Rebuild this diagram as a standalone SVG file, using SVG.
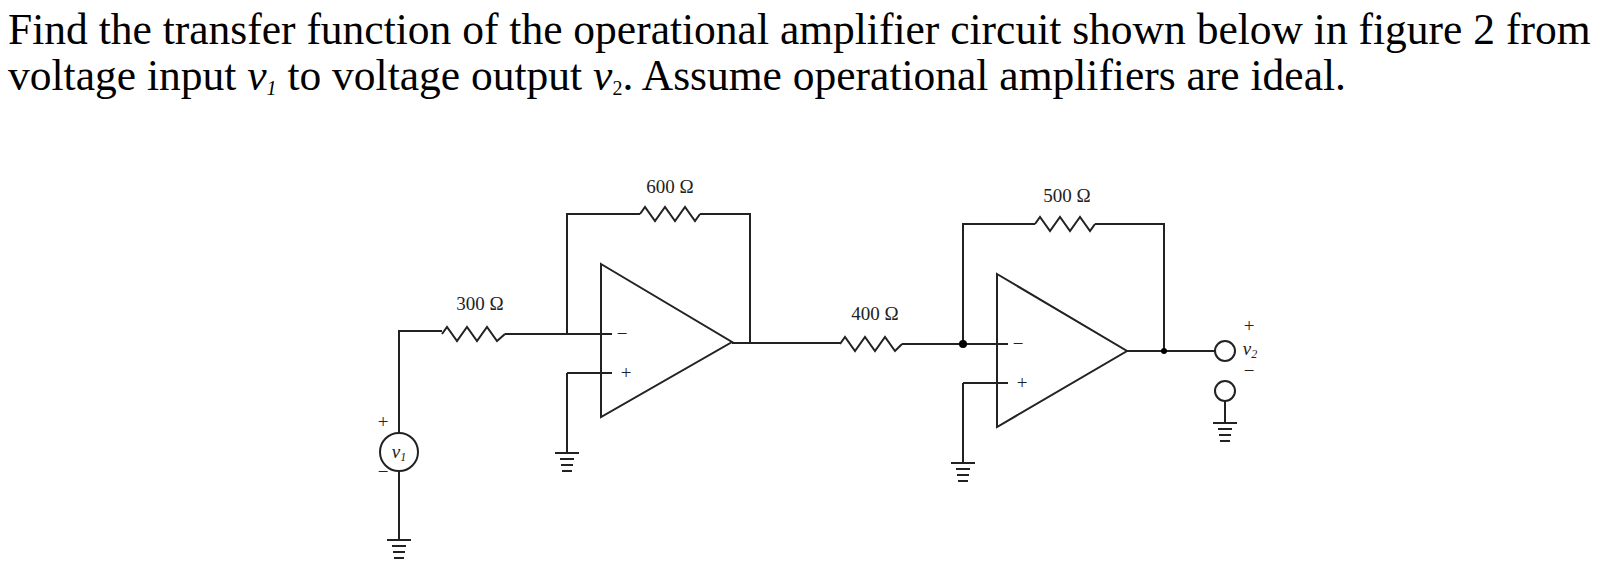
<svg xmlns="http://www.w3.org/2000/svg" width="1609" height="582" viewBox="0 0 1609 582">
<style>
.w{fill:none;stroke:#222;stroke-width:2}
.t{font-family:"Liberation Serif",serif;fill:#000}
.l{font-family:"Liberation Serif",serif;font-size:19px;fill:#222;text-anchor:middle}
</style>
<rect width="1609" height="582" fill="#fff"/>
<text class="t" x="8" y="44" font-size="43.5">Find the transfer function of the operational amplifier circuit shown below in figure 2 from</text>
<text class="t" x="8" y="90" font-size="43.5">voltage input <tspan font-style="italic">v</tspan><tspan font-style="italic" font-size="20" dy="5">1</tspan><tspan dy="-5"> to voltage output </tspan><tspan font-style="italic">v</tspan><tspan font-size="20" dy="5">2</tspan><tspan dy="-5">. Assume operational amplifiers are ideal.</tspan></text>
<g id="connectors">
<path class="w" d="M399,432 V331 H442 M505,334 H612 M567,334 V214 H640 M700,214 H750 V343 M732,343 H840 M902,344 H1008 M963,344 V224 H1035 M1095,224 H1164 V351 M1127,351 H1215 M567,373 H612 M567,373 V453 M963,383 H1008 M963,383 V463 M399,472 V540 M1225,401 V423"/>
</g>
<g id="src"><circle class="w" cx="399" cy="452" r="19"/><text class="l" x="399" y="458" font-style="italic">v<tspan font-size="12" dy="3">1</tspan></text><text class="l" x="383" y="428">+</text><text class="l" x="383" y="478">−</text></g>
<g id="r300"><path class="w" d="M442,334 l5,-7 l10,14 l10,-14 l10,14 l10,-14 l10,14 l8,-7"/><text class="l" x="480" y="310">300 Ω</text></g>
<g id="r600"><path class="w" d="M640,214 l5,-7 l10,14 l10,-14 l10,14 l10,-14 l10,14 l5,-7"/><text class="l" x="670" y="193">600 Ω</text></g>
<g id="r400"><path class="w" d="M840,344 l5,-7 l10,14 l10,-14 l10,14 l10,-14 l10,14 l7,-7"/><text class="l" x="875" y="320">400 Ω</text></g>
<g id="r500"><path class="w" d="M1035,224 l5,-7 l10,14 l10,-14 l10,14 l10,-14 l10,14 l5,-7"/><text class="l" x="1067" y="202">500 Ω</text></g>
<g id="op1"><path class="w" d="M601,264 L732,342 L601,417 Z"/><text class="l" x="622" y="340">−</text><text class="l" x="626" y="379">+</text></g>
<g id="op2"><path class="w" d="M997,274 L1127,351 L997,427 Z"/><text class="l" x="1018" y="350">−</text><text class="l" x="1022" y="389">+</text></g>
<g id="nodes"><circle cx="963" cy="344" r="4"/><circle cx="1164" cy="351" r="3"/></g>
<g id="out"><circle class="w" cx="1225" cy="351" r="10"/><circle class="w" cx="1225" cy="391" r="10"/><text class="l" x="1249" y="332">+</text><text class="l" x="1250" y="355" font-style="italic">v<tspan font-size="12" dy="3">2</tspan></text><text class="l" x="1249" y="377">−</text></g>
<g id="grounds" class="w">
<path d="M555,453 H579 M560,459 H574 M561,465 H573 M562,471 H572"/>
<path d="M951,463 H975 M956,469 H970 M957,475 H969 M958,481 H968"/>
<path d="M387,540 H411 M392,546 H406 M393,552 H405 M394,558 H404"/>
<path d="M1213,423 H1237 M1218,429 H1232 M1219,435 H1231 M1220,441 H1230"/>
</g>
</svg>
